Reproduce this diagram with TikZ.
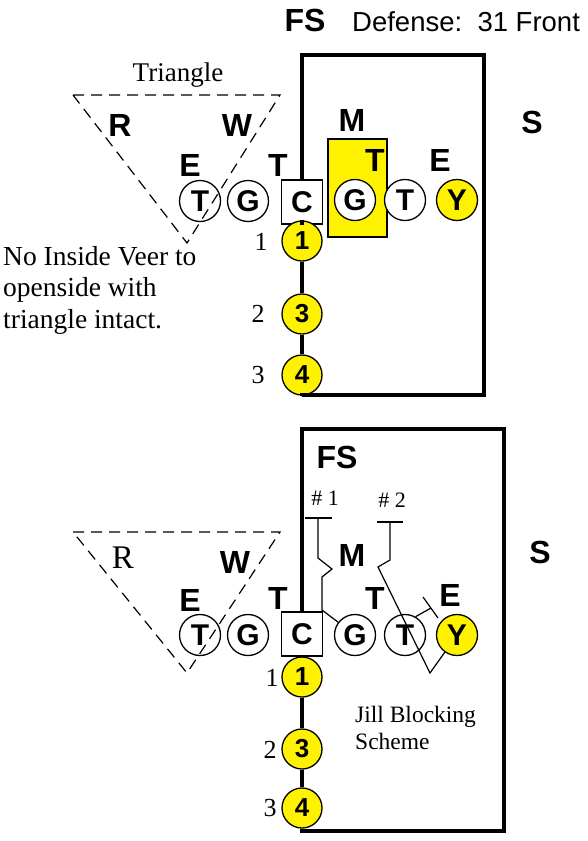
\documentclass[tikz,border=0pt]{standalone}
\usepackage{fontspec}
\setmainfont{Liberation Serif}
\setsansfont{Liberation Sans}
\begin{document}
\begin{tikzpicture}[x=1pt,y=-1pt,
  man/.style={circle,draw,line width=1.3pt,fill=white,minimum size=41pt,inner sep=0pt,font=\sffamily\bfseries\fontsize{30}{30}\selectfont},
  yman/.style={man,fill=yellow},
  back/.style={man,fill=yellow,minimum size=40pt,font=\sffamily\bfseries\fontsize{26}{26}\selectfont},
  ctr/.style={rectangle,draw,line width=1.6pt,fill=white,minimum width=41pt,minimum height=44pt,inner sep=0pt,font=\sffamily\bfseries\fontsize{30}{30}\selectfont},
  dman/.style={inner sep=0pt,font=\sffamily\bfseries\fontsize{32}{32}\selectfont},
  num/.style={inner sep=0pt,font=\fontsize{26}{26}\selectfont},
  note/.style={inner sep=0pt,align=left},
  wall/.style={line width=3.5pt},
  tri/.style={line width=1.2pt,dash pattern=on 11pt off 7pt},
  blk/.style={line width=1.2pt}]
\useasboundingbox (0,0) rectangle (587,841);

\node[dman] (fsA) at (305,20) {FS};
\node[inner sep=0pt,anchor=west,font=\sffamily\fontsize{27.5}{27.5}\selectfont] (title) at (352,22) {Defense:\ \ 31 Front};
\node[inner sep=0pt,font=\fontsize{27}{27}\selectfont] (triname) at (178,75) {Triangle};

\draw[line width=1.3pt,fill=yellow] (328,139) rectangle (387,237);

\node[man] (tA) at (200,201) {T};
\node[man] (gA) at (248,201) {G};
\node[ctr] (cA) at (302,202) {C};
\node[man] (g2A) at (355,200) {G};
\node[man] (t2A) at (405,200) {T};
\node[yman] (yA) at (457,200) {Y};
\node[back] (bA1) at (302,241) {1};
\node[back] (bA2) at (302,314) {3};
\node[back] (bA3) at (302,375) {4};
\node[num] (nA1) at (261,242) {1};
\node[num] (nA2) at (258,314) {2};
\node[num] (nA3) at (258,375) {3};

\node[dman] (rA) at (120,125) {R};
\node[dman] (wA) at (237,125) {W};
\node[dman] (eA) at (190,165) {E};
\node[dman] (dtA) at (278,165) {T};
\node[dman] (mA) at (352,120) {M};
\node[dman] (dt2A) at (375,160) {T};
\node[dman] (e2A) at (440,160) {E};
\node[dman] (sA) at (532,122) {S};

\node[note,anchor=north west,font=\fontsize{27.5}{31.5}\selectfont] (noteA) at (3,246) {No Inside Veer to\\openside with\\triangle intact.};

\coordinate (tlA) at (302,55);
\coordinate (trA) at (484,55);
\coordinate (brA) at (484,395);
\coordinate (blA) at (302,395);
\draw[wall] (bA3) -- (blA) -- (brA) -- (trA) -- (tlA) -- (cA);
\draw[wall] (cA) -- (bA1) -- (bA2) -- (bA3);

\coordinate (triA1) at (73,95);
\coordinate (triA2) at (280,95);
\coordinate (triA3) at (187,243);
\draw[tri] (triA1) -- (triA2) -- (triA3) -- cycle;

\node[dman] (fsB) at (337,457) {FS};

\node[man] (tB) at (200,635) {T};
\node[man] (gB) at (248,635) {G};
\node[ctr] (cB) at (302,634) {C};
\node[man] (g2B) at (355,635) {G};
\node[man] (t2B) at (405,635) {T};
\node[yman] (yB) at (457,635) {Y};
\node[back] (bB1) at (302,677) {1};
\node[back] (bB2) at (302,749) {3};
\node[back] (bB3) at (302,808) {4};
\node[num] (nB1) at (272,678) {1};
\node[num] (nB2) at (270,750) {2};
\node[num] (nB3) at (270,808) {3};

\node[inner sep=0pt,font=\fontsize{33}{33}\selectfont] (rB) at (123,558) {R};
\node[dman] (wB) at (235,562) {W};
\node[dman] (eB) at (190,600) {E};
\node[dman] (dtB) at (278,598) {T};
\node[dman] (mB) at (352,555) {M};
\node[dman] (dt2B) at (375,598) {T};
\node[dman] (e2B) at (450,595) {E};
\node[dman] (sB) at (540,552) {S};

\node[inner sep=0pt,font=\fontsize{22}{22}\selectfont] (k1name) at (325,498) {\# 1};
\node[inner sep=0pt,font=\fontsize{22}{22}\selectfont] (k2name) at (392,500) {\# 2};
\node[note,anchor=west,font=\fontsize{23.5}{27}\selectfont] (noteB) at (355,728) {Jill Blocking\\Scheme};

\coordinate (tlB) at (302,429);
\coordinate (trB) at (504,429);
\coordinate (brB) at (504,831);
\coordinate (blB) at (302,831);
\draw[wall] (bB3) -- (blB) -- (brB) -- (trB) -- (tlB) -- (cB);
\draw[wall] (cB) -- (bB1) -- (bB2) -- (bB3);

\coordinate (triB1) at (73,532);
\coordinate (triB2) at (280,532);
\coordinate (triB3) at (187,673);
\draw[tri] (triB1) -- (triB2) -- (triB3) -- cycle;

\coordinate (k1) at (318,518);
\coordinate (k2) at (390,522);
\coordinate (jB) at (430,673);
\coordinate (tk) at (431,608);
\draw[blk] (k1) ++(-13,0) -- ++(27,0);
\draw[blk] (k1) -- ++(0,40) -- ++(14,11) -- ++(-10,8) -- ++(0,33) -- (g2B);
\draw[blk] (k2) ++(-13,0) -- ++(26,0);
\draw[blk] (k2) -- ++(0,38) -- ++(-12,7) -- (jB) -- (yB);
\draw[blk] (t2B.60) -- (tk);
\draw[blk] (tk) ++(-8,-11) -- ++(15,21);
\end{tikzpicture}
\end{document}
